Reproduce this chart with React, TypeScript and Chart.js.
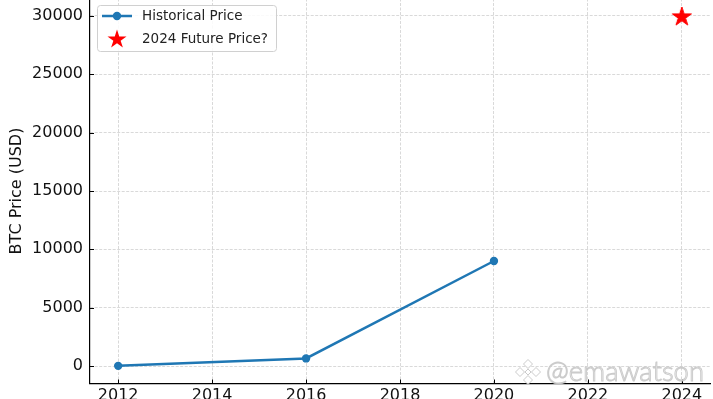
import React, { useEffect, useRef } from "react";
import { Chart, registerables } from "chart.js";

Chart.register(...registerables);

// ---- data ----
const years = [2012, 2016, 2020];
const prices = [13, 650, 9000];
const futureYears = [2024];
const futurePrices = [30000];
const xTicks = [2012, 2014, 2016, 2018, 2020, 2022, 2024];
const yTicks = [0, 5000, 10000, 15000, 20000, 25000, 30000];
const legendLabels = ["Historical Price", "2024 Future Price?"];
const yTitle = "BTC Price (USD)";
const watermark = "@emawatson";

// ---- styles ----
const BLUE = "#1f77b4";
const RED = "#ff0000";
const FONT = "'DejaVu Sans', sans-serif";
const OFF = 4; // canvas shifted up by this many px
const W = 713;
const H = 425;
const GRID = "#d9d9d9";

function starPath(ctx: CanvasRenderingContext2D, cx: number, cy: number, R: number) {
  const r = R * 0.382;
  ctx.beginPath();
  for (let i = 0; i < 10; i++) {
    const rad = i % 2 === 0 ? R : r;
    const a = -Math.PI / 2 + (i * Math.PI) / 5;
    const px = cx + rad * Math.cos(a);
    const py = cy + rad * Math.sin(a);
    if (i === 0) ctx.moveTo(px, py);
    else ctx.lineTo(px, py);
  }
  ctx.closePath();
}

function makeStar(R: number) {
  const c = document.createElement("canvas");
  const s = Math.ceil(R * 2 + 4);
  c.width = s;
  c.height = s;
  const ctx = c.getContext("2d")!;
  starPath(ctx, s / 2, s / 2 + R * 0.1, R);
  ctx.fillStyle = RED;
  ctx.fill();
  ctx.strokeStyle = RED;
  ctx.lineWidth = 1;
  ctx.stroke();
  return c;
}

function diamond(ctx: CanvasRenderingContext2D, cx: number, cy: number, r: number) {
  ctx.beginPath();
  ctx.moveTo(cx, cy - r);
  ctx.lineTo(cx + r, cy);
  ctx.lineTo(cx, cy + r);
  ctx.lineTo(cx - r, cy);
  ctx.closePath();
  ctx.fill();
  ctx.stroke();
}

const decorPlugin = {
  id: "decor",
  afterDraw(chart: any) {
    const ctx: CanvasRenderingContext2D = chart.ctx;
    const { left, bottom } = chart.chartArea;
    const xs = chart.scales.x;
    const ys = chart.scales.y;
    ctx.save();
    // inward tick marks
    ctx.strokeStyle = "#000";
    ctx.lineWidth = 1;
    ctx.beginPath();
    xTicks.forEach((v) => {
      const px = Math.round(xs.getPixelForValue(v)) + 0.5;
      ctx.moveTo(px, bottom);
      ctx.lineTo(px, bottom - 4);
    });
    yTicks.forEach((v) => {
      const py = Math.round(ys.getPixelForValue(v)) + 0.5;
      ctx.moveTo(left, py);
      ctx.lineTo(left + 4, py);
    });
    ctx.stroke();

    // watermark
    const wy = 372 + OFF;
    ctx.lineWidth = 1;
    ctx.strokeStyle = "rgba(190,190,190,0.8)";
    ctx.fillStyle = "rgba(255,255,255,0.9)";
    const lx = 528, ly = wy;
    diamond(ctx, lx, ly - 8, 4.5);
    diamond(ctx, lx, ly + 8, 4.5);
    diamond(ctx, lx - 8, ly, 4.5);
    diamond(ctx, lx + 8, ly, 4.5);
    diamond(ctx, lx, ly, 3);
    ctx.font = "300 28px Lato, 'DejaVu Sans', sans-serif";
    ctx.textAlign = "left";
    ctx.textBaseline = "middle";
    const tw = ctx.measureText(watermark).width;
    ctx.save();
    ctx.translate(546, wy);
    ctx.scale(158 / tw, 1);
    ctx.fillText(watermark, 0, 0);
    ctx.strokeText(watermark, 0, 0);
    ctx.restore();

    // legend
    const bx = 97.5, by = 5.5 + OFF, bw = 179, bh = 46;
    ctx.beginPath();
    (ctx as any).roundRect(bx, by, bw, bh, 3);
    ctx.fillStyle = "rgba(255,255,255,0.85)";
    ctx.fill();
    ctx.strokeStyle = "#d0d0d0";
    ctx.lineWidth = 1;
    ctx.stroke();

    const y1 = 16 + OFF;
    const y2 = 38.5 + OFF;
    ctx.strokeStyle = BLUE;
    ctx.lineWidth = 2.5;
    ctx.beginPath();
    ctx.moveTo(102, y1);
    ctx.lineTo(132, y1);
    ctx.stroke();
    ctx.fillStyle = BLUE;
    ctx.beginPath();
    ctx.arc(117, y1, 4.2, 0, Math.PI * 2);
    ctx.fill();

    starPath(ctx, 117, y2 + 1, 10);
    ctx.fillStyle = RED;
    ctx.fill();

    ctx.fillStyle = "#222";
    ctx.font = `13.5px ${FONT}`;
    ctx.textAlign = "left";
    ctx.textBaseline = "middle";
    ctx.fillText(legendLabels[0], 142, y1 + 0.5);
    ctx.fillText(legendLabels[1], 142, y2 + 0.5);
    ctx.restore();
  },
};

function zeroPad(s: any) {
  s.paddingTop = 0;
  s.paddingBottom = 0;
  s.paddingLeft = 0;
  s.paddingRight = 0;
}

export default function App() {
  const ref = useRef<HTMLCanvasElement>(null);
  useEffect(() => {
    const canvas = ref.current!;
    const star = makeStar(10);
    const chart = new Chart(canvas, {
      type: "line",
      data: {
        datasets: [
          {
            type: "line",
            label: legendLabels[0],
            data: years.map((x, i) => ({ x, y: prices[i] })),
            borderColor: BLUE,
            backgroundColor: BLUE,
            borderWidth: 2.5,
            pointRadius: 4.2,
            pointHoverRadius: 4.2,
            pointBorderWidth: 0,
            tension: 0,
            clip: false,
          },
          {
            type: "scatter",
            label: legendLabels[1],
            data: futureYears.map((x, i) => ({ x, y: futurePrices[i] })),
            pointStyle: star as any,
            pointRadius: 10,
            backgroundColor: RED,
            borderColor: RED,
            showLine: false,
            clip: false,
          } as any,
        ],
      },
      options: {
        responsive: false,
        animation: false,
        devicePixelRatio: 1,
        layout: { autoPadding: false, padding: { top: 2.5, right: 3, left: 0, bottom: 0 } },
        plugins: { legend: { display: false }, tooltip: { enabled: false } },
        scales: {
          x: {
            type: "linear",
            min: 2011.4,
            max: 2024.6,
            afterBuildTicks: (s: any) => {
              s.ticks = xTicks.map((v) => ({ value: v }));
            },
            afterFit: (s: any) => {
              s.height = 37.5;
              zeroPad(s);
            },
            grid: { color: GRID, lineWidth: 1, drawTicks: false },
            border: { display: true, color: "#000", width: 1.2, dash: [3, 1.5] },
            ticks: {
              padding: 3,
              color: "#111",
              autoSkip: false,
              maxRotation: 0,
              font: { family: FONT, size: 16 },
              callback: (v: any) => String(v),
            },
          },
          y: {
            type: "linear",
            min: -1500,
            max: 31500,
            afterBuildTicks: (s: any) => {
              s.ticks = yTicks.map((v) => ({ value: v }));
            },
            afterFit: (s: any) => {
              s.width = 90;
              zeroPad(s);
            },
            grid: { color: GRID, lineWidth: 1, drawTicks: false },
            border: { display: true, color: "#000", width: 1.2, dash: [3, 1.5] },
            title: {
              display: true,
              text: yTitle,
              color: "#111",
              font: { family: FONT, size: 16 },
              padding: { top: 7.4, bottom: 0 },
            },
            ticks: {
              padding: 7,
              color: "#111",
              font: { family: FONT, size: 16 },
              callback: (v: any) => String(v),
            },
          },
        },
      },
      plugins: [decorPlugin],
    });
    return () => chart.destroy();
  }, []);
  return (
    <div
      style={{
        position: "absolute",
        left: 0,
        top: 0,
        width: 713,
        height: 399,
        overflow: "hidden",
        background: "#fff",
      }}
    >
      <canvas
        ref={ref}
        width={W}
        height={H}
        style={{ position: "absolute", left: 0, top: -OFF, width: W, height: H }}
      />
    </div>
  );
}
